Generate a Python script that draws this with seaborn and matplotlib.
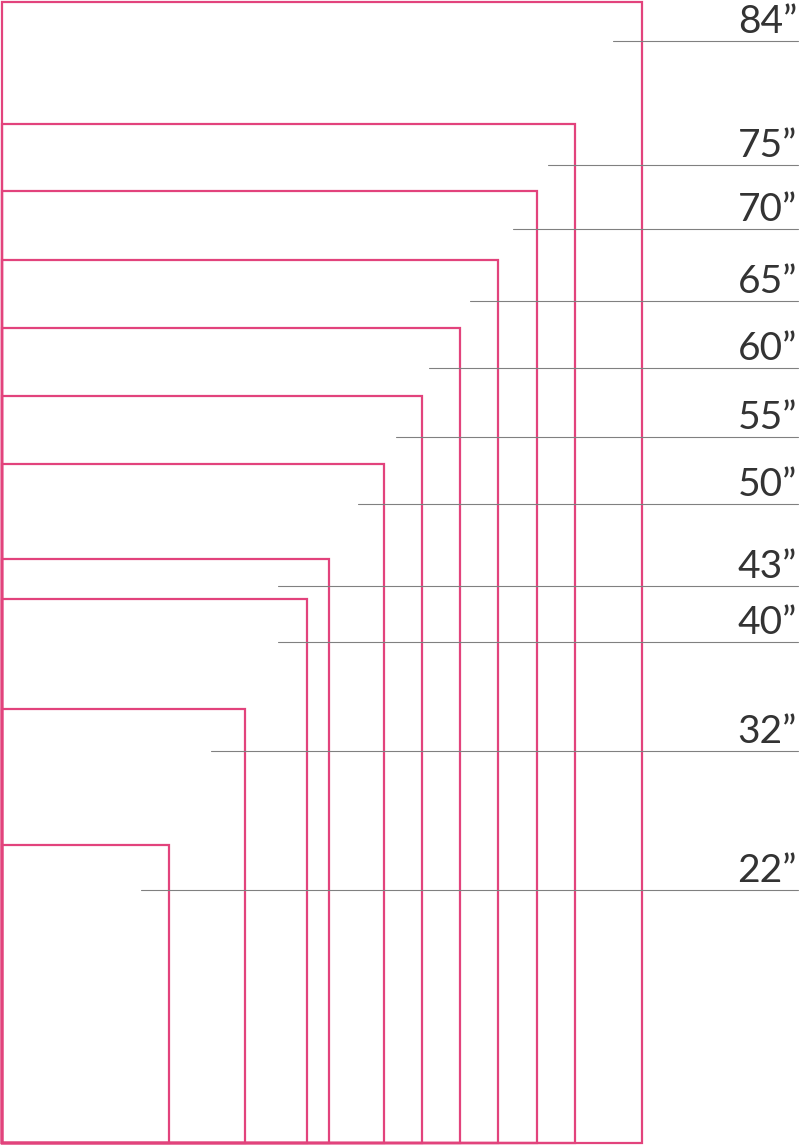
import matplotlib
matplotlib.use("Agg")
import matplotlib.pyplot as plt
import seaborn as sns
from matplotlib.patches import Rectangle

sns.set_style("white")
plt.rcParams['font.family'] = ['Lato', 'DejaVu Sans']

sizes = ["84", "75", "70", "65", "60", "55", "50", "43", "40", "32", "22"]
rect_right = [642, 575, 537, 498, 460, 422, 384, 329, 307, 245, 169]
rect_top = [2, 124, 191, 260, 328, 396, 464, 559, 599, 709, 845]
line_y = [41, 165, 229, 301, 368, 437, 504, 586, 642, 751, 890]
line_x0 = [613, 548, 513, 470, 429, 396, 358, 278, 278, 211, 141]

fig = plt.figure(figsize=(8, 11.45), dpi=100)
ax = fig.add_axes([0, 0, 1, 1])
ax.set_xlim(0, 800)
ax.set_ylim(1145, 0)
ax.axis("off")

left, bottom = 2, 1143
pink = "#e2437c"
for s, r, t, ly, lx in zip(sizes, rect_right, rect_top, line_y, line_x0):
    ax.add_patch(Rectangle((left, t), r - left, bottom - t, fill=False,
                           edgecolor=pink, linewidth=1.6))
    ax.plot([lx, 798], [ly, ly], color="#808080", linewidth=0.8)
    ax.text(797, ly - 1, s + "\u201d", ha="right", va="bottom",
            fontsize=28, color="#333333")

fig.savefig("out.png", dpi=100)
